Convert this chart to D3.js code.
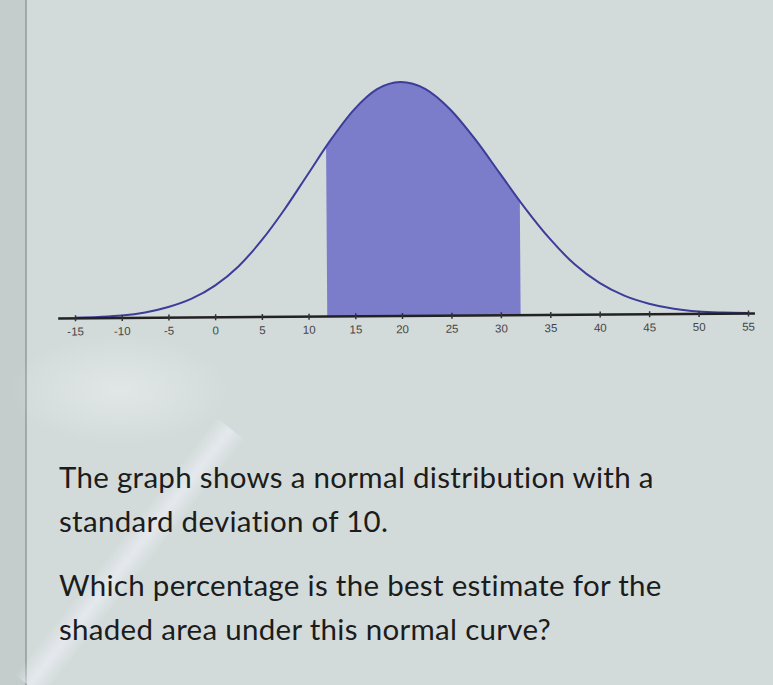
<!DOCTYPE html>
<html>
<head>
<meta charset="utf-8">
<script src="https://cdn.jsdelivr.net/npm/d3@7/dist/d3.min.js"></script>
<style>
  body { margin: 0; background: #d3dbda; }
  svg { display: block; }
</style>
</head>
<body>
<div class="svg-container"></div>
<script>
// tick labels along the number line
const tickValues = [-15, -10, -5, 0, 5, 10, 15, 20, 25, 30, 35, 40, 45, 50, 55];

// curve heights, every 2.5 units from -15 to 55
const curveX = [-15, -12.5, -10, -7.5, -5, -2.5, 0, 2.5, 5, 7.5, 10, 12.5, 15, 17.5, 20,
  22.5, 25, 27.5, 30, 32.5, 35, 37.5, 40, 42.5, 45, 47.5, 50, 52.5, 55];
const curveY = [0.0001, 0.0002, 0.0004, 0.0009, 0.0018, 0.0032, 0.0054, 0.0086, 0.0130, 0.0183,
  0.0242, 0.0301, 0.0352, 0.0387, 0.0399, 0.0387, 0.0352, 0.0301, 0.0242, 0.0183,
  0.0130, 0.0086, 0.0054, 0.0032, 0.0018, 0.0009, 0.0004, 0.0002, 0.0001];

// shaded interval
const shadeFrom = 12;
const shadeTo = 32;

const questionLines = [
  'The graph shows a normal distribution with a',
  'standard deviation of 10.',
  'Which percentage is the best estimate for the',
  'shaded area under this normal curve?'
];

const width = 773;
const height = 685;

const svg = d3.select('.svg-container')
  .append('svg')
  .attr('width', width)
  .attr('height', height);

const defs = svg.append('defs');

// gradients for the screen glare
const streak = defs.append('linearGradient')
  .attr('id', 'streak')
  .attr('gradientUnits', 'userSpaceOnUse')
  .attr('x1', 116).attr('y1', 546).attr('x2', 144).attr('y2', 568);
streak.append('stop').attr('offset', '0%').attr('stop-color', '#eef0f8').attr('stop-opacity', 0);
streak.append('stop').attr('offset', '50%').attr('stop-color', '#eef0f8').attr('stop-opacity', 0.65);
streak.append('stop').attr('offset', '100%').attr('stop-color', '#eef0f8').attr('stop-opacity', 0);

const patch = defs.append('radialGradient')
  .attr('id', 'patch')
  .attr('cx', 0.5).attr('cy', 0.5).attr('r', 0.5);
patch.append('stop').attr('offset', '0%').attr('stop-color', '#eef2f3').attr('stop-opacity', 0.5);
patch.append('stop').attr('offset', '100%').attr('stop-color', '#eef2f3').attr('stop-opacity', 0);

// background: photo of a screen
svg.append('rect')
  .attr('width', width).attr('height', height)
  .attr('fill', '#d3dbda');

svg.append('rect')
  .attr('width', 26).attr('height', height)
  .attr('fill', '#c4cccc');

svg.append('line')
  .attr('x1', 26).attr('x2', 26)
  .attr('y1', 0).attr('y2', height)
  .attr('stroke', '#939b9b')
  .attr('stroke-width', 1.5);

svg.append('ellipse')
  .attr('cx', 120).attr('cy', 390)
  .attr('rx', 110).attr('ry', 55)
  .attr('fill', 'url(#patch)');

svg.append('path')
  .attr('d', 'M14,674 L42,696 L245,440 L217,418 Z')
  .attr('fill', 'url(#streak)');

// scales (photo has slight perspective, so piecewise)
const x = d3.scaleLinear()
  .domain([-15, 20, 55])
  .range([75, 402, 748]);

const y = d3.scaleLinear()
  .domain([0, 0.0399])
  .range([316, 82]);

const chart = svg.append('g')
  .attr('transform', 'rotate(-0.4, 400, 316)');

const points = curveX.map((d, i) => ({ x: d, y: curveY[i] }));

// shaded region via clip
defs.append('clipPath')
  .attr('id', 'shade-clip')
  .append('rect')
  .attr('x', x(shadeFrom))
  .attr('y', 0)
  .attr('width', x(shadeTo) - x(shadeFrom))
  .attr('height', height);

const area = d3.area()
  .x((d) => x(d.x))
  .y0(y(0))
  .y1((d) => y(d.y))
  .curve(d3.curveMonotoneX);

chart.append('path')
  .datum(points)
  .attr('d', area)
  .attr('clip-path', 'url(#shade-clip)')
  .attr('fill', '#7b7dca');

const line = d3.line()
  .x((d) => x(d.x))
  .y((d) => y(d.y))
  .curve(d3.curveMonotoneX);

chart.append('path')
  .datum(points)
  .attr('d', line)
  .attr('fill', 'none')
  .attr('stroke', '#3c3c99')
  .attr('stroke-width', 2);

// number line
const xAxis = d3.axisBottom(x)
  .tickValues(tickValues)
  .tickFormat((d) => String(d))
  .tickSize(3)
  .tickPadding(6);

const axisG = chart.append('g')
  .attr('transform', `translate(0, ${y(0)})`)
  .call(xAxis);

axisG.select('.domain').remove();

axisG.insert('line', ':first-child')
  .attr('x1', x(-16.8))
  .attr('x2', x(55.7))
  .attr('stroke', '#222')
  .attr('stroke-width', 2.5);

axisG.selectAll('.tick line')
  .attr('y1', -3)
  .attr('y2', 3)
  .attr('stroke', '#333')
  .attr('stroke-width', 1.5);

axisG.selectAll('.tick text')
  .attr('fill', '#454545')
  .style('font-family', '"Liberation Sans", Arial, sans-serif')
  .style('font-size', '11.5px');

// question text
const baselines = [488, 532, 596, 640];

svg.selectAll('.question')
  .data(questionLines)
  .enter()
  .append('text')
  .attr('class', 'question')
  .attr('x', 59)
  .attr('y', (d, i) => baselines[i])
  .attr('fill', '#1c1c1c')
  .style('font-family', 'Lato, "Open Sans", sans-serif')
  .style('font-size', '29.5px')
  .style('letter-spacing', '0.3px')
  .text((d) => d);
</script>
</body>
</html>
